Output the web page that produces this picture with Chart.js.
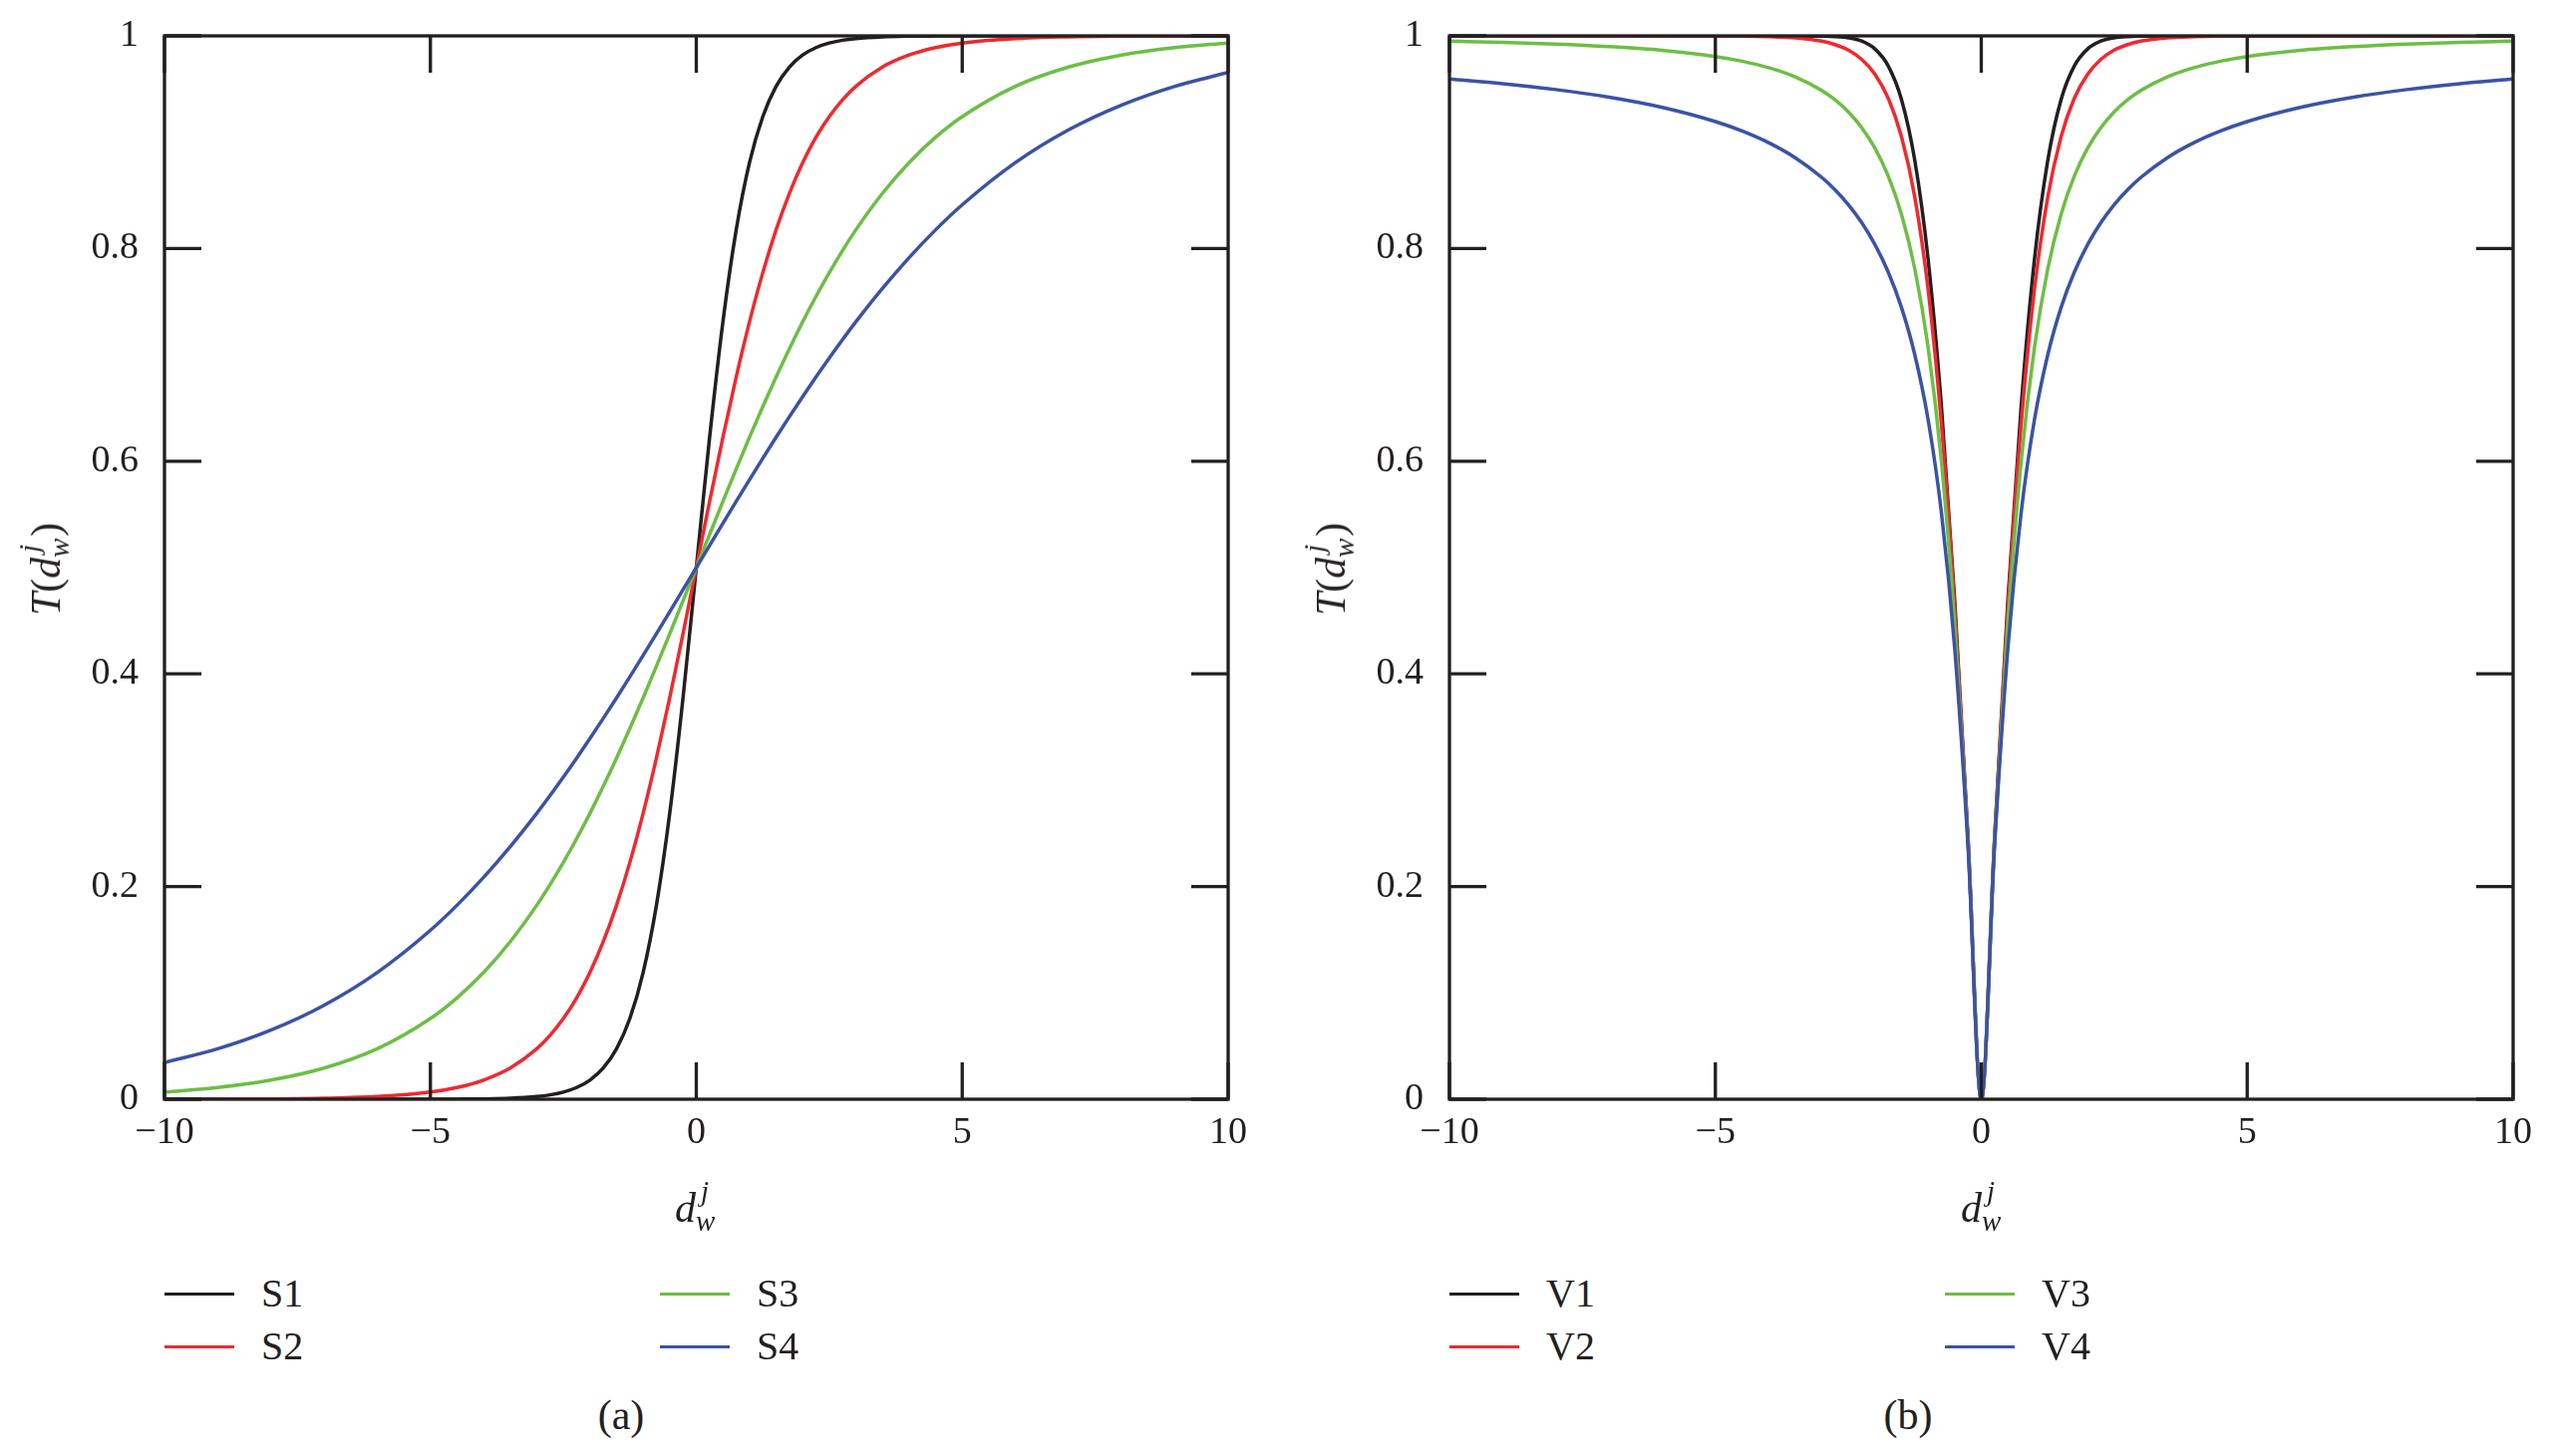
<!DOCTYPE html>
<html>
<head>
<meta charset="utf-8">
<script src="https://cdn.jsdelivr.net/npm/chart.js@4.4.1/dist/chart.umd.min.js"></script>
<style>
html, body { margin: 0; padding: 0; background: #fff; }
body { width: 2560px; height: 1461px; position: relative; overflow: hidden;
       font-family: 'Liberation Serif', 'DejaVu Serif', serif; color: #231f20; }
.wrap { position: absolute; top: 0; }
.mt { position: absolute; font-size: 42px; line-height: 42px; white-space: nowrap; }
.xt { transform: translate(-50%, -50%); }
.yt { transform: translate(-50%, -50%) rotate(-90deg); }
.it { font-style: italic; }
.ss { display: inline-block; position: relative; width: 21px; height: 42px; vertical-align: top; }
.sp, .sb { position: absolute; font-size: 29px; line-height: 29px; font-style: italic; }
.sp { top: -10px; left: 5px; }
.sb { top: 20px; left: 0px; }
.sw { position: absolute; height: 3px; width: 70px; }
.lb { position: absolute; font-size: 40px; line-height: 40px; transform: translateY(-50%); }
.cap { position: absolute; font-size: 42px; line-height: 42px; transform: translate(-50%, -50%); }
</style>
</head>
<body>

<div class="wrap" style="left:0px"><canvas id="chartS" width="1280" height="1260"></canvas></div>
<div class="wrap" style="left:1289px"><canvas id="chartV" width="1271" height="1260"></canvas></div>

<div class="mt xt" style="left:698px; top:1212px"><span class="it">d</span><span class="ss"><span class="sp">j</span><span class="sb">w</span></span></div>
<div class="mt xt" style="left:1988px; top:1212px"><span class="it">d</span><span class="ss"><span class="sp">j</span><span class="sb">w</span></span></div>

<div class="mt yt" style="left:46px; top:571px"><span class="it">T</span>(<span class="it">d</span><span class="ss"><span class="sp">j</span><span class="sb">w</span></span>)</div>
<div class="mt yt" style="left:1335px; top:571px"><span class="it">T</span>(<span class="it">d</span><span class="ss"><span class="sp">j</span><span class="sb">w</span></span>)</div>

<div class="cap" style="left:623px; top:1420px">(a)</div>
<div class="cap" style="left:1914px; top:1420px">(b)</div>

<div id="legends"></div>

<script>
// x samples shared by all curves
var xValues = [-10, -9, -8, -7, -6, -5, -4.5, -4, -3.5, -3, -2.75, -2.5, -2.25, -2, -1.75, -1.5, -1.25, -1, -0.75, -0.5, -0.25,
               0,
               0.25, 0.5, 0.75, 1, 1.25, 1.5, 1.75, 2, 2.25, 2.5, 2.75, 3, 3.5, 4, 4.5, 5, 6, 7, 8, 9, 10];

// (a) S-shaped
var s1 = [0, 0, 0, 0, 0, 0, 0.0001, 0.0003, 0.0009, 0.0025, 0.0041, 0.0067, 0.0110, 0.0180, 0.0293, 0.0474, 0.0759, 0.1192, 0.1824, 0.2689, 0.3775,
          0.5,
          0.6225, 0.7311, 0.8176, 0.8808, 0.9241, 0.9526, 0.9707, 0.9820, 0.9890, 0.9933, 0.9959, 0.9975, 0.9991, 0.9997, 0.9999, 1, 1, 1, 1, 1, 1];
var s2 = [0.0000, 0.0001, 0.0003, 0.0009, 0.0025, 0.0067, 0.0110, 0.0180, 0.0293, 0.0474, 0.0601, 0.0759, 0.0953, 0.1192, 0.1481, 0.1824, 0.2227, 0.2689, 0.3208, 0.3775, 0.4378,
          0.5,
          0.5622, 0.6225, 0.6792, 0.7311, 0.7773, 0.8176, 0.8519, 0.8808, 0.9047, 0.9241, 0.9399, 0.9526, 0.9707, 0.9820, 0.9890, 0.9933, 0.9975, 0.9991, 0.9997, 0.9999, 1.0];
var s3 = [0.0067, 0.0110, 0.0180, 0.0293, 0.0474, 0.0759, 0.0953, 0.1192, 0.1481, 0.1824, 0.2018, 0.2227, 0.2451, 0.2689, 0.2942, 0.3208, 0.3486, 0.3775, 0.4073, 0.4378, 0.4688,
          0.5,
          0.5312, 0.5622, 0.5927, 0.6225, 0.6514, 0.6792, 0.7058, 0.7311, 0.7549, 0.7773, 0.7982, 0.8176, 0.8519, 0.8808, 0.9047, 0.9241, 0.9526, 0.9707, 0.9820, 0.9890, 0.9933];
var s4 = [0.0345, 0.0474, 0.0650, 0.0884, 0.1192, 0.1589, 0.1824, 0.2086, 0.2375, 0.2689, 0.2856, 0.3029, 0.3208, 0.3392, 0.3581, 0.3775, 0.3973, 0.4174, 0.4378, 0.4584, 0.4792,
          0.5,
          0.5208, 0.5416, 0.5622, 0.5826, 0.6027, 0.6225, 0.6419, 0.6608, 0.6792, 0.6971, 0.7144, 0.7311, 0.7625, 0.7914, 0.8176, 0.8411, 0.8808, 0.9116, 0.9350, 0.9526, 0.9655];

// (b) V-shaped
var v1 = [1, 1, 1, 1, 1, 1, 1, 1, 1, 0.9998, 0.9994, 0.9982, 0.9951, 0.9877, 0.9718, 0.9401, 0.8828, 0.7900, 0.6520, 0.4692, 0.2461,
          0,
          0.2461, 0.4692, 0.6520, 0.7900, 0.8828, 0.9401, 0.9718, 0.9877, 0.9951, 0.9982, 0.9994, 0.9998, 1, 1, 1, 1, 1, 1, 1, 1, 1];
var v2 = [1, 1, 1, 1, 1, 0.9999, 0.9998, 0.9993, 0.9982, 0.9951, 0.9918, 0.9866, 0.9780, 0.9640, 0.9414, 0.9051, 0.8483, 0.7616, 0.6351, 0.4621, 0.2449,
          0,
          0.2449, 0.4621, 0.6351, 0.7616, 0.8483, 0.9051, 0.9414, 0.9640, 0.9780, 0.9866, 0.9918, 0.9951, 0.9982, 0.9993, 0.9998, 0.9999, 1, 1, 1, 1, 1];
var v3 = [0.9950, 0.9939, 0.9923, 0.9899, 0.9864, 0.9806, 0.9762, 0.9701, 0.9615, 0.9487, 0.9398, 0.9285, 0.9138, 0.8944, 0.8682, 0.8321, 0.7809, 0.7071, 0.6000, 0.4472, 0.2425,
          0,
          0.2425, 0.4472, 0.6000, 0.7071, 0.7809, 0.8321, 0.8682, 0.8944, 0.9138, 0.9285, 0.9398, 0.9487, 0.9615, 0.9701, 0.9762, 0.9806, 0.9864, 0.9899, 0.9923, 0.9939, 0.9950];
var v4 = [0.9595, 0.9551, 0.9495, 0.9423, 0.9327, 0.9194, 0.9106, 0.8996, 0.8855, 0.8669, 0.8552, 0.8413, 0.8245, 0.8038, 0.7779, 0.7445, 0.7001, 0.6391, 0.5518, 0.4239, 0.2383,
          0,
          0.2383, 0.4239, 0.5518, 0.6391, 0.7001, 0.7445, 0.7779, 0.8038, 0.8245, 0.8413, 0.8552, 0.8669, 0.8855, 0.8996, 0.9106, 0.9194, 0.9327, 0.9423, 0.9495, 0.9551, 0.9595];

var sNames = ['S1', 'S2', 'S3', 'S4'];
var vNames = ['V1', 'V2', 'V3', 'V4'];
var lineColors = ['#231f20', '#ee2a2f', '#6dbe45', '#3a53a4'];
var axisColor = '#231f20';
var fontFamily = "'Liberation Serif', 'DejaVu Serif', serif";

// frame + inward ticks on all four sides
var frameTicks = {
    id: 'frameTicks',
    afterDraw: function(chart) {
        var ctx = chart.ctx, a = chart.chartArea;
        var xs = chart.scales.x, ys = chart.scales.y;
        var len = 37;
        ctx.save();
        ctx.strokeStyle = axisColor;
        ctx.lineWidth = 3.3;
        ctx.beginPath();
        xs.ticks.forEach(function(t) {
            var px = xs.getPixelForValue(t.value);
            ctx.moveTo(px, a.bottom); ctx.lineTo(px, a.bottom - len);
            ctx.moveTo(px, a.top); ctx.lineTo(px, a.top + len);
        });
        ys.ticks.forEach(function(t) {
            var py = ys.getPixelForValue(t.value);
            ctx.moveTo(a.left, py); ctx.lineTo(a.left + len, py);
            ctx.moveTo(a.right, py); ctx.lineTo(a.right - len, py);
        });
        ctx.stroke();
        ctx.strokeRect(a.left, a.top, a.right - a.left, a.bottom - a.top);
        ctx.restore();
    }
};

function noEdgePadding(s) {
    s.paddingTop = 0; s.paddingBottom = 0; s.paddingLeft = 0; s.paddingRight = 0;
}

function makeChart(id, names, series, area) {
    var datasets = names.map(function(n, i) {
        return {
            label: n,
            data: xValues.map(function(x, k) { return {x: x, y: series[i][k]}; }),
            borderColor: lineColors[i],
            borderWidth: 3.5,
            pointRadius: 0,
            fill: false,
            cubicInterpolationMode: 'monotone',
            order: names.length - i
        };
    });
    var tickFont = {family: fontFamily, size: 38};
    var canvas = document.getElementById(id);
    return new Chart(canvas, {
        type: 'line',
        data: {datasets: datasets},
        options: {
            responsive: false,
            animation: false,
            layout: {padding: {top: area.top, right: canvas.width - area.right, left: 0, bottom: 0}},
            plugins: {legend: {display: false}, tooltip: {enabled: false}},
            scales: {
                x: {
                    type: 'linear', min: -10, max: 10,
                    grid: {display: false, drawTicks: false},
                    border: {display: false},
                    ticks: {
                        stepSize: 5, padding: 11, color: axisColor, font: tickFont, maxRotation: 0,
                        callback: function(v) { return v < 0 ? '\u2212' + Math.abs(v) : String(v); }
                    },
                    afterFit: function(s) { s.height = canvas.height - area.bottom; noEdgePadding(s); }
                },
                y: {
                    type: 'linear', min: 0, max: 1,
                    grid: {display: false, drawTicks: false},
                    border: {display: false},
                    ticks: {
                        stepSize: 0.2, padding: 26, color: axisColor, font: tickFont,
                        callback: function(v) { return String(Math.round(v * 10) / 10); }
                    },
                    afterFit: function(s) { s.width = area.left; noEdgePadding(s); }
                }
            }
        },
        plugins: [frameTicks]
    });
}

// two-column legends under each panel
function addLegend(left, names) {
    var box = document.getElementById('legends');
    var rows = [1298, 1351];
    names.forEach(function(n, i) {
        var col = Math.floor(i / 2), row = i % 2;
        var x = left + col * 497;
        var sw = document.createElement('div');
        sw.className = 'sw';
        sw.style.left = x + 'px';
        sw.style.top = (rows[row] - 1.5) + 'px';
        sw.style.background = lineColors[i];
        box.appendChild(sw);
        var lb = document.createElement('div');
        lb.className = 'lb';
        lb.style.left = (x + 97) + 'px';
        lb.style.top = rows[row] + 'px';
        lb.textContent = n;
        box.appendChild(lb);
    });
}

document.fonts.ready.then(function() {
    var chartS = makeChart('chartS', sNames, [s1, s2, s3, s4], {left: 165, top: 36, right: 1232, bottom: 1103});
    var chartV = makeChart('chartV', vNames, [v1, v2, v3, v4], {left: 165, top: 36, right: 1232, bottom: 1103});
    addLegend(chartS.chartArea.left, sNames);
    addLegend(1289 + chartV.chartArea.left, vNames);
});
</script>
</body>
</html>
